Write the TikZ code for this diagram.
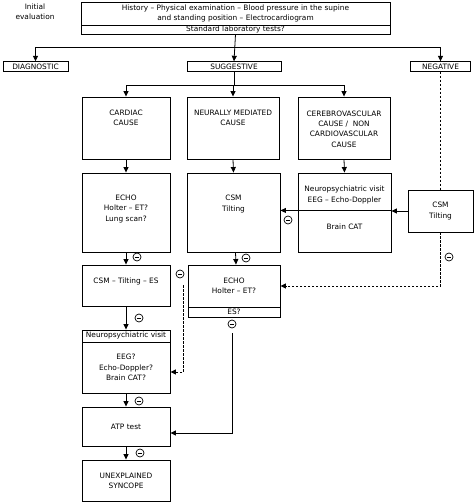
\documentclass[tikz,border=0pt]{standalone}
\usepackage{fontspec}
\setmainfont{DejaVu Sans}
\usetikzlibrary{arrows.meta}

\tikzset{
  box/.style={draw, line width=0.9pt, inner sep=0pt, align=center},
  txt/.style={inner sep=0pt, align=center},
  ln/.style={line width=0.8pt},
  arr/.style={line width=0.8pt, -{Triangle[length=5.5pt,width=5pt]}},
  dsh/.style={line width=0.9pt, dash pattern=on 2.5pt off 1.5pt},
  negmark/.style={circle, draw, line width=0.7pt, inner sep=0pt, minimum size=8pt,
    path picture={\draw[line width=0.8pt] ([xshift=-2.2pt]path picture bounding box.center) -- ([xshift=2.2pt]path picture bounding box.center);}}
}

\begin{document}
\begin{tikzpicture}[x=1pt,y=-1pt,every node/.append style={font=\fontsize{7.4}{10.3}\selectfont}]
\useasboundingbox (0,0) rectangle (474,502);

% initial evaluation
  \node[txt] (init) at (35,12) {Initial\\evaluation};
  \node[box, minimum width=309, minimum height=23] (hist) at (235.5,13.5) {History -- Physical examination -- Blood pressure in the supine\\and standing position -- Electrocardiogram};
  \node[box, minimum width=309, minimum height=9, text height=5.2pt, text depth=1.2pt] (lab) at (235.5,29.5) {Standard laboratory tests?};

  \node[box, minimum width=65, minimum height=9.5, text height=5.2pt, text depth=0pt] (diag) at (35.5,66.5) {DIAGNOSTIC};
  \node[box, minimum width=94, minimum height=9.5, text height=5.2pt, text depth=0pt] (sugg) at (234,66.5) {SUGGESTIVE};
  \node[box, minimum width=60, minimum height=9.5, text height=5.2pt, text depth=0pt] (neg) at (440.5,66.5) {NEGATIVE};

  \coordinate (split) at (234,47);
  \draw[arr] (lab.south) -- (sugg.north);
  \draw[arr] (split) -| (diag.north);
  \draw[arr] (split) -| (neg.north);

% causes
  \node[box, minimum width=88, minimum height=62] (cardiac) at (126,128) {};
  \node[box, minimum width=92, minimum height=62] (neural) at (233,128) {};
  \node[box, minimum width=92, minimum height=62] (cereb) at (344,128) {};
  \node[txt] (cardiactxt) at (126,118) {CARDIAC\\CAUSE};
  \node[txt] (neuraltxt) at (233,118) {NEURALLY MEDIATED\\CAUSE};
  \node[txt] (cerebtxt) at (344,129) {CEREBROVASCULAR\\CAUSE /\ \ NON\\CARDIOVASCULAR\\CAUSE};

  \coordinate (split2) at (234,85);
  \draw[ln] (sugg.south) -- (split2);
  \draw[arr] (split2) -| (cardiac.north);
  \draw[arr] (split2) -| (cereb.north);
  \draw[arr] (split2) -| (neural.north);

% second row
  \node[box, minimum width=88, minimum height=79] (echo1) at (126,212.5) {};
  \node[txt] (echo1txt) at (126,209) {ECHO\\Holter -- ET?\\Lung scan?};
  \node[box, minimum width=93, minimum height=79] (neural2) at (233.5,212.5) {};
  \node[txt] (neural2txt) at (233.5,204) {CSM\\Tilting};
  \node[box, minimum width=93, minimum height=37] (cerebup) at (344.5,191.5) {};
  \node[txt] (cerebuptxt) at (344.5,195) {Neuropsychiatric visit\\EEG -- Echo-Doppler};
  \node[box, minimum width=93, minimum height=42] (cereblo) at (344.5,231) {};
  \node[txt] (cereblotxt) at (344.5,227) {Brain CAT};
  \node[box, minimum width=65, minimum height=42] (csmr) at (440.5,211) {CSM\\Tilting};

  \draw[arr] (cardiac.south) -- (echo1.north);
  \draw[arr] (neural.south) -- (neural2.north);
  \draw[arr] (cereb.south) -- (cerebup.north);
  \draw[arr] (csmr.west) -- (csmr.west -| cerebup.east);
  \draw[arr] (cerebup.south west) -- (cerebup.south west -| neural2.east);
  \node[negmark] (m1) at (288,220) {};
  \draw[dsh] (neg.south) -- (csmr.north);

% third row
  \node[box, minimum width=88, minimum height=41] (csmtes) at (126,285.5) {};
  \node[txt] (csmtestxt) at (126,281) {CSM -- Tilting -- ES};
  \node[box, minimum width=92, minimum height=42] (echo2) at (234,286) {ECHO\\Holter -- ET?};
  \node[box, minimum width=92, minimum height=10, text height=5.2pt, text depth=1.2pt] (es) at (234,312) {ES?};

  \draw[arr] (echo1.south) -- (csmtes.north);
  \node[negmark] (m2) at (137,257) {};
  \draw[arr] ([xshift=2pt]neural2.south) -- ([xshift=2pt]echo2.north);
  \node[negmark] (m3) at (246,258) {};
  \draw[dsh,-{Triangle[length=5.5pt,width=5pt]}] (csmr.south) |- (echo2.east);
  \node[negmark] (m4) at (449,257) {};

% left column
  \node[box, minimum width=88, minimum height=12, text height=5.2pt, text depth=1.5pt] (nhead) at (126,336) {Neuropsychiatric visit};
  \node[box, minimum width=88, minimum height=51] (nbody) at (126,367.5) {EEG?\\Echo-Doppler?\\Brain CAT?};
  \node[box, minimum width=88, minimum height=39] (atp) at (126,426.5) {ATP test};
  \node[box, minimum width=88, minimum height=41] (unexpl) at (126,480.5) {UNEXPLAINED\\SYNCOPE};

  \draw[arr] (csmtes.south) -- (nhead.north);
  \node[negmark] (m7) at (139,318) {};
  \draw[arr] (nbody.south) -- (atp.north);
  \node[negmark] (m8) at (139,401) {};
  \draw[arr] (atp.south) -- (unexpl.north);
  \node[negmark] (m9) at (140,453) {};

  \node[negmark] (m5) at (180,274) {};
  \coordinate (dstart) at (183,285);
  \draw[dsh,-{Triangle[length=5.5pt,width=5pt]}] (dstart) |- ([yshift=-4.5pt]nbody.east);

  \node[negmark] (m6) at (232,324) {};
  \coordinate (esline) at (232,333);
  \draw[arr] (esline) |- ([yshift=-6.5pt]atp.east);

\end{tikzpicture}
\end{document}
